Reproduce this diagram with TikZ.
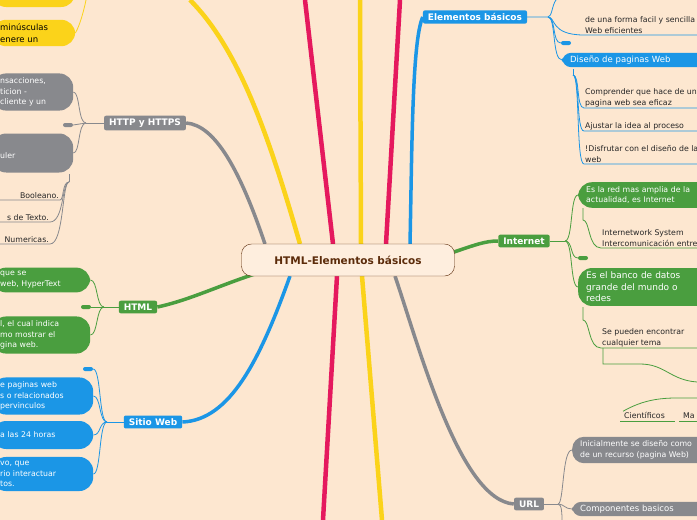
\documentclass[tikz,border=0pt]{standalone}
\usepackage{fontspec}
\setmainfont{DejaVu Sans}
\definecolor{bg}{HTML}{FDE7D0}
\definecolor{cblue}{HTML}{1B96E6}
\definecolor{cgreen}{HTML}{4A9E3F}
\definecolor{cgray}{HTML}{88898D}
\definecolor{cpink}{HTML}{E5195E}
\definecolor{cyel}{HTML}{FBD31A}
\definecolor{brown}{HTML}{5B2B0A}
\tikzset{
 box/.style={rounded corners=2pt,text=white,font=\bfseries\fontsize{9}{11}\selectfont,inner xsep=5pt,inner ysep=3pt},
 lpill/.style={rounded corners=14pt,text=white,font=\fontsize{7.8}{10.8}\selectfont,align=left,anchor=west,inner xsep=8pt,inner ysep=4pt},
 item/.style={font=\fontsize{7.8}{10.8}\selectfont,text=black!85,align=left,anchor=south west,inner sep=1pt},
 tab/.style={rounded corners=2pt,minimum width=10pt,minimum height=4pt,inner sep=0pt},
 central/.style={draw=brown,fill=bg!70!white,rounded corners=10pt,minimum width=213pt,minimum height=32pt,font=\bfseries\fontsize{10.5}{12}\selectfont,text=brown},
}
\begin{document}
\begin{tikzpicture}[x=1pt,y=-1pt]
\fill[bg] (0,0) rectangle (697,520);
\useasboundingbox (0,0) rectangle (697,520);
\clip (0,0) rectangle (697,520);
\coordinate (pk1) at (305,0);
\coordinate (pk2) at (400,0);
\coordinate (pk3) at (323,520);
\coordinate (ye1) at (190,0);
\coordinate (ye2) at (360,0);
\coordinate (ye3) at (382,520);
\coordinate (x576) at (576,0);
\coordinate (x64) at (64,0);
\coordinate (x101) at (101,0);
\draw[cpink,line width=4.5pt] (337,276) -- (pk3);
\draw[cpink,line width=4.5pt] (333,244) -- (pk1);
\draw[cyel,line width=4.5pt] (361,244) -- (ye2);
\draw[cpink,line width=4.5pt] (386,244) -- (pk2);
\draw[cyel,line width=4.5pt] (300,244) .. controls (270,140) and (240,50) .. (ye1);
\draw[cyel,line width=4.5pt] (362,276) -- (ye3);
% sub nodes
\node[box,fill=cblue] (eb) at (475,17) {Elementos básicos};
\node[box,fill=cgray] (http) at (145,123) {HTTP y HTTPS};
\node[box,fill=cgreen] (html) at (138,307) {HTML};
\node[box,fill=cblue] (sw) at (153,422) {Sitio Web};
\node[box,fill=cgreen] (inet) at (524,241) {Internet};
\node[box,fill=cgray] (url) at (529,504) {URL};
\node[box,fill=cgray,minimum width=60pt] (topg) at (130,-8) {};
\draw[cblue,line width=3.5pt] (410,244) .. controls (412,150) and (412,40) .. (eb.west);
\draw[cgray,line width=3.5pt] (265,244) .. controls (240,170) and (215,125) .. (http.east);
\draw[cgreen,line width=3.5pt] (258,273) .. controls (220,285) and (190,300) .. (html.east);
\draw[cblue,line width=3.5pt] (290,276) .. controls (260,360) and (230,420) .. (sw.east);
\draw[cgreen,line width=3.5pt] (454,252) .. controls (475,245) and (485,241) .. (inet.west);
\draw[cgray,line width=3.5pt] (395,276) .. controls (420,350) and (460,500) .. (url.west);
\node[central] (c) at (348,260) {HTML-Elementos básicos};

% ---- Elementos basicos
\node[item] (eb1) at (584,35) {de una forma facil y sencilla\\Web eficientes};
\node[lpill,fill=cblue,rounded corners=9pt,font=\fontsize{8.5}{10}\selectfont,inner ysep=3pt,text width=160pt] (dpw) at (562,60) {Diseño de paginas Web};
\node[tab,fill=cblue] (t1) at (566,43) {};
\node[item] (d1) at (584,108) {Comprender que hace de una\\pagina web sea eficaz};
\node[item] (d2) at (584,131) {Ajustar la idea al proceso};
\node[item] (d3) at (584,164) {!Disfrutar con el diseño de la\\web};
\begin{scope}[cblue,line width=0.8pt]
\draw (eb.east) -- (548,17) .. controls (552,17) and (552,5) .. (556,0);
\draw (548,17) .. controls (556,17) and (550,35) .. (eb1.south west) -- (697,35);
\draw (548,17) .. controls (556,17) and (552,43) .. (t1.west);
\draw (548,17) .. controls (556,17) and (552,60) .. (dpw.west);
\draw (573,69) -- (573,75);
\foreach \n in {d1,d2,d3}{\draw (573,75) .. controls (580,75) and (\n.south west -| x576) .. (\n.south west) -- ++(120,0);}
\end{scope}

% ---- HTTP
\node[lpill,fill=cgray,text width=65pt] (h1) at (-8,92) {nsacciones,\\ticion -\\cliente y un\\ };
\node[lpill,fill=cgray,text width=65pt,minimum height=39pt] (h2) at (-8,153) {\\uler};
\node[tab,fill=cgray] (t2) at (68,125) {};
\node[item,anchor=south east] (b1) at (60,200) {Booleano.};
\node[item,anchor=south east] (b2) at (50,222) {s de Texto.};
\node[item,anchor=south east] (b3) at (50,244) {Numericas.};
\begin{scope}[cgray,line width=0.8pt]
\draw (http.west) -- (86,123);
\draw (86,123) .. controls (78,123) and (80,92) .. (h1.east);
\draw (86,123) .. controls (78,123) and (80,153) .. (h2.east);
\draw (86,123) -- (t2.east);
\draw (69,174) -- (69,182);
\foreach \n in {b1,b2,b3}{\draw (69,182) .. controls (62,182) and (\n.south east -| x64) .. (\n.south east) -- ++(-80,0);}
\end{scope}

% ---- yellow pills
\node[lpill,fill=cyel,text=black,text width=67pt,minimum height=40pt] (y1) at (-8,-13) {};
\node[lpill,fill=cyel,text=black,text width=67pt,font=\fontsize{8.5}{11.5}\selectfont] (y2) at (-8,33) {minúsculas\\enere un\\ };
\draw[cyel,line width=0.8pt] (y2.east) .. controls (80,25) and (84,10) .. (86,0);

% ---- HTML
\node[lpill,fill=cgreen,text width=82pt] (g1) at (-8,280) {que se\\web, HyperText\\ };
\node[lpill,fill=cgreen,text width=82pt] (g2) at (-8,335) {l, el cual indica\\mo mostrar el\\gina web.};
\node[tab,fill=cgreen] (t3) at (86,307) {};
\begin{scope}[cgreen,line width=0.8pt]
\draw (html.west) -- (104,307);
\draw (104,307) .. controls (96,307) and (98,280) .. (g1.east);
\draw (104,307) .. controls (96,307) and (98,335) .. (g2.east);
\draw (104,307) -- (t3.east);
\end{scope}

% ---- Sitio web
\node[lpill,fill=cblue,text width=85pt] (s1) at (-8,396) {e paginas web\\s o relacionados\\pervinculos};
\node[lpill,fill=cblue,text width=85pt,minimum height=28pt] (s2) at (-8,435) {a las 24 horas\\ };
\node[lpill,fill=cblue,text width=85pt] (s3) at (-8,474) {vo, que\\rio interactuar\\tos.};
\node[tab,fill=cblue] (t4) at (88,369) {};
\begin{scope}[cblue,line width=0.8pt]
\draw (sw.west) -- (107,422);
\foreach \n in {s1,s2,s3}{\draw (107,422) .. controls (99,422) and (\n.east -| x101) .. (\n.east);}
\draw (107,422) .. controls (99,422) and (101,369) .. (t4.east);
\end{scope}

% ---- Internet
\node[lpill,fill=cgreen,text width=140pt] (i1) at (578,195) {Es la red mas amplia de la\\actualidad, es Internet};
\node[item] (i2) at (601,248) {Internetwork System\\Intercomunicación  entre};
\node[lpill,fill=cgreen,text width=140pt,font=\fontsize{9}{11.5}\selectfont] (i3) at (578,287) {Es el banco de datos\\grande del mundo o\\redes};
\node[tab,fill=cgreen] (t5) at (583,258) {};
\node[item] (i4) at (601,348) {Se pueden encontrar\\cualquier tema};
\node[item] (k1) at (623,420) {Científicos};
\node[item] (k2) at (682,420) {Ma};
\begin{scope}[cgreen,line width=0.8pt]
\draw (inet.east) -- (565,241);
\draw (565,241) .. controls (573,241) and (570,195) .. (i1.west);
\draw (565,241) .. controls (573,241) and (570,287) .. (i3.west);
\draw (565,241) .. controls (573,241) and (570,258) .. (t5.west);
\draw (583,208) -- (583,220) .. controls (590,220) and (588,248) .. (i2.south west) -- ++(100,0);
\draw (583,307) -- (583,320) .. controls (590,320) and (588,348) .. (i4.south west) -- ++(100,0);
\draw (603,348) -- (603,364) -- (640,364) .. controls (665,364) and (670,380) .. (697,382);
\draw (697,398) .. controls (670,398) and (650,396) .. (k1.north west);
\draw (620,421) -- (675,421);
\draw (679,421) -- (697,421);
\end{scope}

% ---- URL
\node[lpill,fill=cgray,text width=140pt,rounded corners=12pt] (u1) at (572,450) {Inicialmente se diseño como\\de un recurso (pagina Web)};
\node[lpill,fill=cgray,text width=140pt,rounded corners=9pt,font=\fontsize{8.5}{10}\selectfont,inner ysep=3pt] (u2) at (572,509) {Componentes basicos};
\begin{scope}[cgray,line width=0.8pt]
\draw (url.east) -- (558,504);
\draw (558,504) .. controls (564,504) and (562,450) .. (u1.west);
\draw (558,504) .. controls (564,504) and (565,509) .. (u2.west);
\draw (558,504) .. controls (562,504) and (562,515) .. (562,520);
\end{scope}
\end{tikzpicture}
\end{document}
